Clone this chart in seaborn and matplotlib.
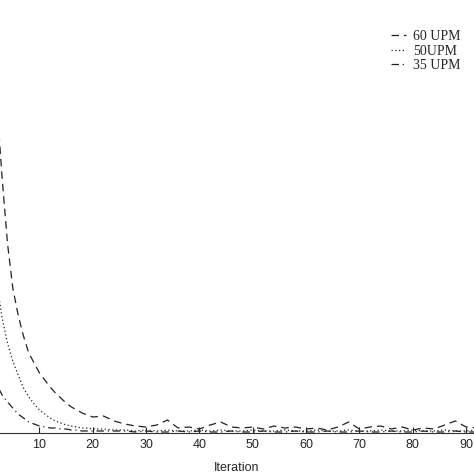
import matplotlib
matplotlib.use("Agg")
import matplotlib.pyplot as plt
import seaborn as sns
import pandas as pd

sns.set_style("white")
plt.rcParams['font.family'] = ['Liberation Sans', 'DejaVu Sans']

iters = [1, 2, 3, 4, 5, 6, 7, 8, 9, 10, 11, 12, 13, 14, 15, 16, 17, 18, 19, 20,
         22, 24, 26, 28, 30, 32, 34, 36, 38, 40, 42, 44, 46, 48, 50, 52, 54, 56, 58, 60,
         62, 64, 66, 68, 70, 72, 74, 76, 78, 80, 82, 84, 86, 88, 90, 92]
upm60 = [400, 330, 255, 190, 145, 118, 97, 80, 70, 60, 53, 46, 40, 35, 30, 26, 23, 20, 18, 16,
         17, 12, 9, 7, 6, 8, 13, 5, 6, 4, 8, 11, 6, 5, 6, 4, 7, 5, 6, 4,
         5, 3, 6, 11, 4, 6, 7, 4, 6, 3, 5, 4, 8, 12, 6, 5]
upm50 = [185, 150, 115, 90, 72, 58, 45, 36, 29, 23, 19, 15, 12, 10, 8, 7, 6, 5, 5, 4,
         4, 3, 3, 2, 3, 2, 3, 2, 2, 3, 2, 3, 2, 2, 3, 2, 2, 3, 2, 2,
         3, 2, 2, 3, 2, 2, 3, 2, 2, 3, 2, 2, 3, 2, 2, 3]
upm35 = [60, 48, 38, 31, 25, 19, 15, 11, 9, 7, 6, 5, 5, 4, 4, 3, 3, 2, 2, 2,
         2, 2, 2, 1, 2, 1, 1, 2, 1, 2, 1, 1, 2, 1, 1, 2, 1, 1, 2, 1,
         1, 2, 1, 1, 2, 1, 1, 2, 1, 1, 2, 1, 1, 2, 1, 1]

df = pd.DataFrame({"Iteration": iters * 3,
                   "v": upm60 + upm50 + upm35,
                   "s": ["60 UPM"] * len(iters) + ["50UPM"] * len(iters) + ["35 UPM"] * len(iters)})

fig = plt.figure(figsize=(4.74, 4.74), dpi=100)
ax = fig.add_axes([0, 41/474, 1, 433/474])
styles = {"60 UPM": (0, (6, 4)), "50UPM": (0, (1, 2)), "35 UPM": (0, (6, 3, 1, 3))}
for name in ["60 UPM", "50UPM", "35 UPM"]:
    d = df[df.s == name]
    sns.lineplot(data=d, x="Iteration", y="v", ax=ax, color="#222222", lw=0.9,
                 linestyle=styles[name], label=name)
ax.set_xlim(2.6, 91.5)
ax.set_ylim(0, 433)
for s in ["top", "left", "right"]:
    ax.spines[s].set_visible(False)
ax.spines["bottom"].set_color("#333333")
ax.set_yticks([])
ax.set_ylabel("")
ax.set_xticks([10, 20, 30, 40, 50, 60, 70, 80, 90])
ax.tick_params(axis="x", direction="in", length=4, labelsize=9, pad=4, bottom=True)
ax.set_xlabel("Iteration", fontsize=9, labelpad=8)
leg = ax.legend(loc="upper left", bbox_to_anchor=(0.825, 0.93), frameon=False,
                prop={"family": "Liberation Serif", "size": 10}, handlelength=1.1,
                handletextpad=0.5, labelspacing=0.1, borderaxespad=0, borderpad=0)
fig.savefig("out.png", dpi=100)
